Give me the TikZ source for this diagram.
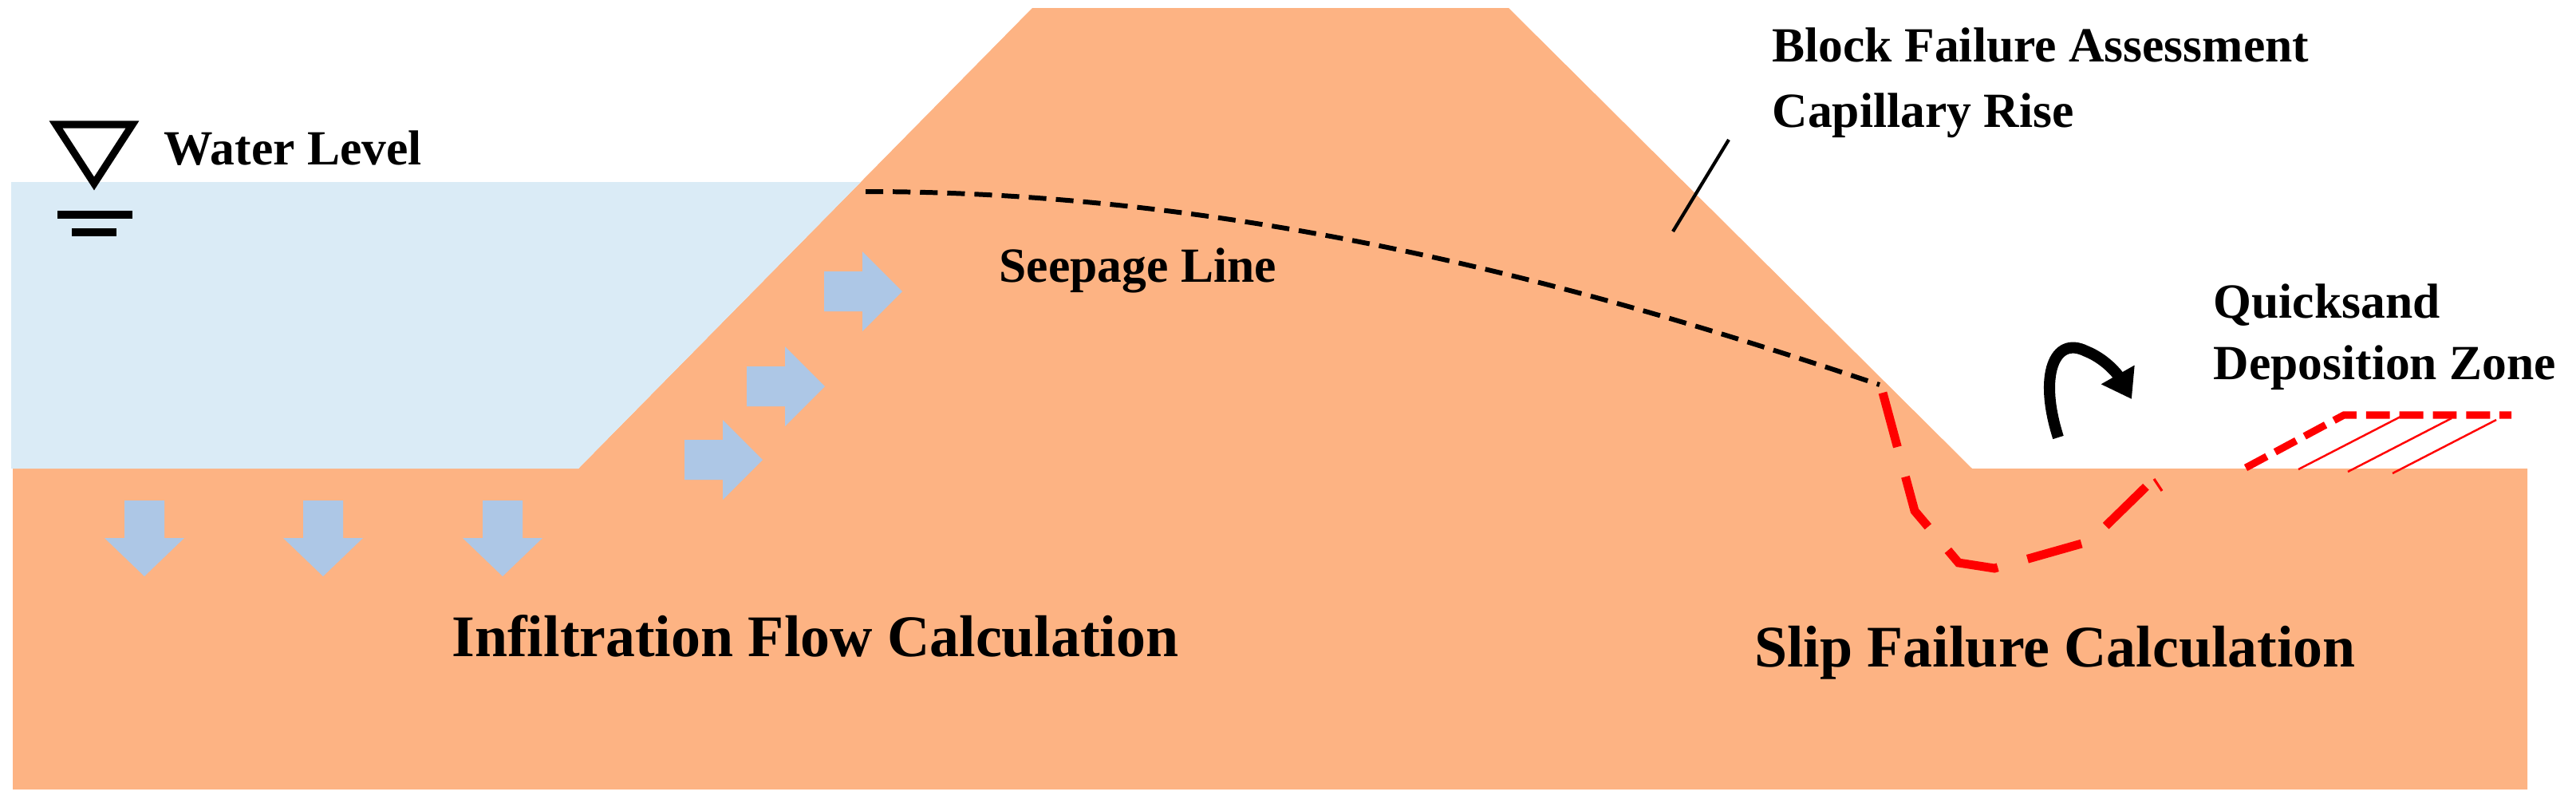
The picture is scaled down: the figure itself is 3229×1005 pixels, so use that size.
\documentclass[tikz,border=0pt]{standalone}
\usepackage{fontspec}
\setmainfont{Liberation Serif}
\usetikzlibrary{arrows.meta}
\definecolor{soil}{HTML}{FDB383}
\definecolor{water}{HTML}{DAEBF6}
\definecolor{flow}{HTML}{ADC7E6}
\begin{document}
\begin{tikzpicture}[x=0.01cm,y=-0.01cm,
  lbl/.style={font=\bfseries\fontsize{17.5}{20}\selectfont,anchor=base west,inner sep=0},
  big/.style={font=\bfseries\fontsize{21}{24}\selectfont,anchor=center,inner sep=0},
]
\useasboundingbox (0,0) rectangle (3229,1005);
% ground and dam
\fill[soil] (16,587) -- (725,587) -- (1294,10) -- (1891,10) -- (2472,587) -- (3168,587) -- (3168,989) -- (16,989) -- cycle;
\fill[water] (14,228) -- (1079,228) -- (725,587) -- (14,587) -- cycle;
% water level symbol
\draw[line width=2.6pt,miter limit=20] (70,156) -- (166,156) -- (118,230) -- cycle;
\fill (72,264) rectangle (166,274);
\fill (90,286) rectangle (146,296);
\node[lbl] (wl) at (205,206) {Water Level};
% down arrows
\foreach \cx in {181,405,630}{
  \fill[flow] (\cx-25,627) -- (\cx+25,627) -- (\cx+25,674) -- (\cx+50,674) -- (\cx,722) -- (\cx-50,674) -- (\cx-25,674) -- cycle;
}
% right arrows
\foreach \lx/\cy in {1033/365,936/484,858/576}{
  \fill[flow] (\lx,\cy-25) -- (\lx+48,\cy-25) -- (\lx+48,\cy-50) -- (\lx+98,\cy) -- (\lx+48,\cy+50) -- (\lx+48,\cy+25) -- (\lx,\cy+25) -- cycle;
}
% seepage line
\coordinate (s0) at (1085,240);
\coordinate (s1) at (2356,482);
\draw[line width=1.7pt,dash pattern=on 6.3pt off 3.4pt] (s0) .. controls (1600,240) and (2050,380) .. (s1);
\node[lbl] (seepage) at (1252,353) {Seepage Line};
% red slip surface
\draw[red,line width=3.1pt,dash pattern=on 20pt off 11pt] (2360,492) -- (2400,640) -- (2455,705) -- (2500,712) -- (2620,678) -- (2700,600);
\draw[red,line width=0.9pt] (2700,600) -- (2710,615);
% rotation arrow
\draw[line width=4pt,-{Triangle[length=10pt,width=13pt]}] (2580,548) .. controls (2555,470) and (2575,420) .. (2615,440) .. controls (2640,450) and (2655,470) .. (2672,500);
% quicksand zone
\draw[red,line width=2.6pt,dash pattern=on 8.5pt off 3.4pt] (2815,586) -- (2938,520) -- (3148,520);
\foreach \a/\b/\c/\d in {2881/588/3011/521,2943/591/3073/524,2999/593/3129/526}
  \draw[red,line width=0.7pt] (\a,\b) -- (\c,\d);
\node[lbl] (qs) at (2774,398) {Quicksand};
\node[lbl] (dz) at (2774,475) {Deposition Zone};
% block failure label
\node[lbl] (bf) at (2221,77) {Block Failure Assessment};
\node[lbl] (cr) at (2221,159) {Capillary Rise};
\coordinate (l0) at (2097,290);
\coordinate (l1) at (2167,175);
\draw[line width=1.2pt] (l0) -- (l1);
% big labels
\node[big] (inf) at (1022,797) {Infiltration Flow Calculation};
\node[big] (slip) at (2576,818) {Slip Failure Calculation};
\end{tikzpicture}
\end{document}
